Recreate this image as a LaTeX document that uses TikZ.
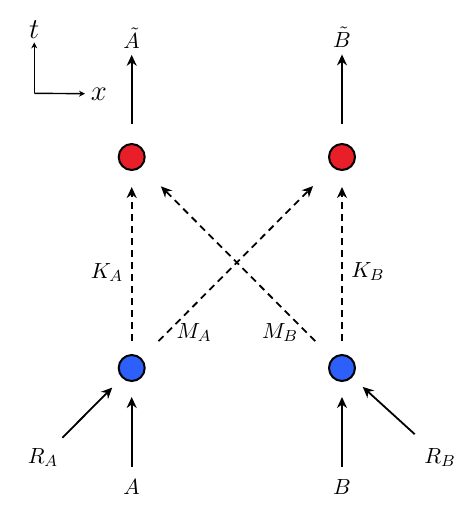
\documentclass[tikz,border=0pt]{standalone}
\usetikzlibrary{arrows.meta}
\definecolor{nodered}{RGB}{232,30,40}
\definecolor{nodeblue}{RGB}{45,95,250}
\begin{document}
\begin{tikzpicture}[x=0.5pt,y=-0.5pt,
  dot/.style={circle,draw=black,line width=1pt,minimum size=13pt,inner sep=0pt},
  lab/.style={anchor=base,inner sep=0pt,font=\fontsize{11}{13}\selectfont},
  axlab/.style={anchor=base,inner sep=0pt,font=\fontsize{14}{16}\selectfont},
  arr/.style={line width=0.9pt,-{Stealth[length=5.5pt,width=5pt]}},
  darr/.style={arr,dash pattern=on 3.5pt off 2.5pt},
  axarr/.style={line width=0.7pt,-{Stealth[length=3pt,width=3pt]}}]
\useasboundingbox (0,0) rectangle (474,526);
% circles
\node[dot,fill=nodeblue] (bA) at (131.7,368) {};
\node[dot,fill=nodeblue] (bB) at (342,368) {};
\node[dot,fill=nodered] (rA) at (131.7,157) {};
\node[dot,fill=nodered] (rB) at (342,157) {};
% labels
\node[lab] (A) at (131.7,494) {$A$};
\node[lab] (B) at (342,494) {$B$};
\node[lab] (RA) at (43,463) {$R_A$};
\node[lab] (RB) at (440,463) {$R_B$};
\node[lab] (At) at (131.7,48) {$\tilde{A}$};
\node[lab] (Bt) at (342,47) {$\tilde{B}$};
\node[lab] (KA) at (107,278) {$K_A$};
\node[lab] (KB) at (368,277) {$K_B$};
\node[lab] (MA) at (194,338) {$M_A$};
\node[lab] (MB) at (280,338) {$M_B$};
% axes
\coordinate (O) at (34.3,93.3);
\node[axlab] (t) at (34.3,38) {$t$};
\node[axlab] (x) at (99,100) {$x$};
\draw[axarr,shorten >=2pt] (O) -- (t);
\draw[axarr,shorten >=2.8pt] (O) -- (x);
% inputs
\draw[arr,shorten <=6pt,shorten >=7.5pt] (A) -- (bA);
\draw[arr,shorten <=6pt,shorten >=7.5pt] (B) -- (bB);
\draw[arr,shorten <=7pt,shorten >=6.8pt] (RA) -- (bA);
\draw[arr,shorten <=10pt,shorten >=7pt] (RB) -- (bB);
% outputs
\draw[arr,shorten <=9.5pt,shorten >=3.2pt] (rA) -- (At);
\draw[arr,shorten <=9.5pt,shorten >=3.5pt] (rB) -- (Bt);
% dashed
\draw[darr,shorten <=6.5pt,shorten >=8pt] (bA) -- (rA);
\draw[darr,shorten <=6.5pt,shorten >=8pt] (bB) -- (rB);
\draw[darr,shorten <=12pt,shorten >=13.5pt] (bA) -- (rB);
\draw[darr,shorten <=12pt,shorten >=13.7pt] (bB) -- (rA);
\end{tikzpicture}
\end{document}
